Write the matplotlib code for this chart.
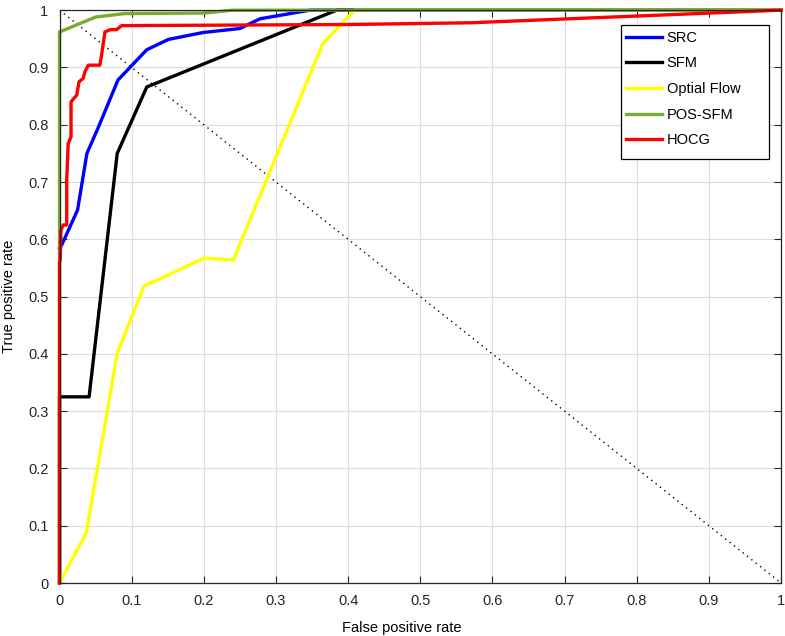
import matplotlib
matplotlib.use("Agg")
import matplotlib.pyplot as plt
from matplotlib.patches import Rectangle

plt.rcParams["font.family"] = ["Liberation Sans", "DejaVu Sans"]

# ROC curves
src_fpr = [0.0, 0.003, 0.025, 0.038, 0.054, 0.081, 0.121, 0.151, 0.199, 0.25, 0.278, 0.347, 1.0]
src_tpr = [0.585, 0.59, 0.651, 0.75, 0.796, 0.878, 0.931, 0.949, 0.961, 0.968, 0.985, 1.0, 1.0]

sfm_fpr = [0.0, 0.0, 0.041, 0.08, 0.121, 0.384, 1.0]
sfm_tpr = [0.0, 0.325, 0.325, 0.75, 0.866, 1.0, 1.0]

of_fpr = [0.0, 0.037, 0.08, 0.117, 0.2, 0.241, 0.365, 0.409, 1.0]
of_tpr = [0.0, 0.087, 0.401, 0.518, 0.567, 0.564, 0.942, 1.0, 1.0]

pos_fpr = [0.0, 0.0, 0.05, 0.09, 0.2, 0.24, 1.0]
pos_tpr = [0.0, 0.962, 0.988, 0.994, 0.995, 1.0, 1.0]

hocg_fpr = [0.0, 0.0, 0.001, 0.002, 0.005, 0.01, 0.01, 0.012, 0.016, 0.016, 0.024,
            0.027, 0.033, 0.035, 0.04, 0.056, 0.058, 0.063, 0.07, 0.079, 0.086,
            0.4, 0.57, 1.0]
hocg_tpr = [0.0, 0.56, 0.564, 0.616, 0.625, 0.625, 0.703, 0.767, 0.779, 0.84, 0.852,
            0.875, 0.881, 0.892, 0.904, 0.904, 0.919, 0.962, 0.966, 0.966, 0.973,
            0.975, 0.978, 1.0]

series = [
    ("SRC", src_fpr, src_tpr, "#0000ff"),
    ("SFM", sfm_fpr, sfm_tpr, "#000000"),
    ("Optial Flow", of_fpr, of_tpr, "#ffff00"),
    ("POS-SFM", pos_fpr, pos_tpr, "#77ac30"),
    ("HOCG", hocg_fpr, hocg_tpr, "#ff0000"),
]

ticks = [0, 0.1, 0.2, 0.3, 0.4, 0.5, 0.6, 0.7, 0.8, 0.9, 1]
tick_labels = ["0", "0.1", "0.2", "0.3", "0.4", "0.5", "0.6", "0.7", "0.8", "0.9", "1"]

fig = plt.figure(figsize=(7.85, 6.36), dpi=100)
ax = fig.add_axes([0.0758, 0.0833, 0.9192, 0.9007])

# chance line
ax.plot([0, 1], [1, 0], color="black", linestyle=(0, (1, 3)), linewidth=1.0, zorder=1)

for name, x, y, c in series:
    ax.plot(x, y, color=c, linewidth=2.4, label=name, zorder=2, clip_on=False)

ax.set_xlim(0, 1)
ax.set_ylim(0, 1)
ax.set_xticks(ticks)
ax.set_xticklabels(tick_labels)
ax.set_yticks(ticks)
ax.set_yticklabels(tick_labels)
ax.grid(True, color="#dcdcdc", linewidth=0.8)
ax.set_axisbelow(True)
ax.tick_params(direction="in", length=5, width=0.8, top=True, right=True,
               labelsize=10.5, colors="#262626")
ax.tick_params(axis="x", pad=8)
ax.tick_params(axis="y", pad=8)
for s in ax.spines.values():
    s.set_color("#262626")
    s.set_linewidth(0.9)

ax.set_xlabel("False positive rate", fontsize=10.5)
ax.set_ylabel("True positive rate", fontsize=10.5)
ax.xaxis.set_label_coords(0.474, -0.067)
ax.yaxis.set_label_coords(-0.06, 0.5)

# MATLAB-style legend box: drawn by hand so the wide right margin matches
ax.add_patch(Rectangle((0.778, 0.74), 0.205, 0.234, transform=ax.transAxes,
                       facecolor="white", edgecolor="black", linewidth=0.9,
                       zorder=5, clip_on=False))
leg = ax.legend(loc="upper left", bbox_to_anchor=(0.785, 0.964), fontsize=10.5,
                frameon=False, handlelength=2.5, labelspacing=0.8,
                borderpad=0, borderaxespad=0, handletextpad=0.3)
leg.set_zorder(6)

fig.savefig("out.png", dpi=100)
